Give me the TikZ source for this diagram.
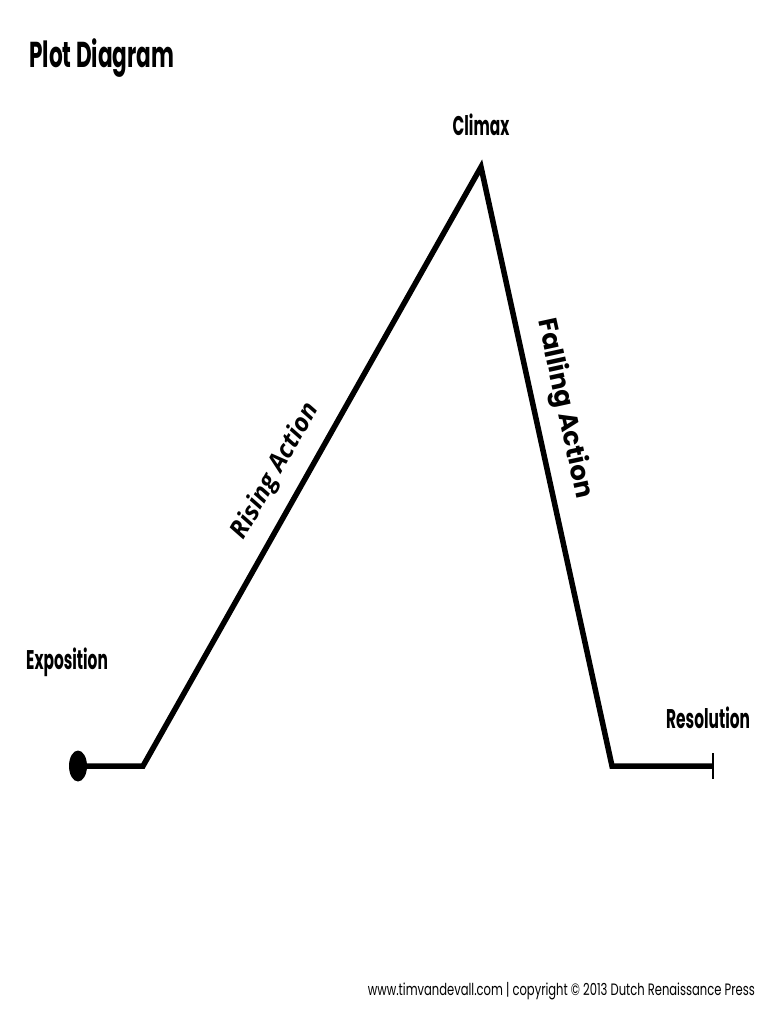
\documentclass[tikz,border=0pt]{standalone}
\usepackage{fontspec}
\setmainfont{Poppins}
\newfontfamily\narrowfont[FakeStretch=0.6]{Poppins}
\newfontfamily\stagefont[FakeStretch=0.57]{Poppins}
\newfontfamily\footfont[FakeStretch=0.7]{Poppins}
\newfontfamily\slantfont{Open Sans}
\tikzset{
    plotline/.style={line width=5.5pt, line join=miter},
    heading/.style={font=\narrowfont\bfseries\fontsize{36}{40}\selectfont, inner sep=0pt},
    stage/.style={font=\stagefont\bfseries\fontsize{27}{30}\selectfont, inner sep=0pt},
    action/.style={font=\bfseries\fontsize{26}{30}\selectfont, inner sep=0pt},
    rising/.style={font=\slantfont\bfseries\itshape\fontsize{25}{28}\selectfont, inner sep=0pt},
    credit/.style={font=\footfont\fontsize{16.5}{18}\selectfont, inner sep=0pt}
}
\begin{document}
\begin{tikzpicture}[x=1pt,y=-1pt]
    \useasboundingbox[fill=white] (0,0) rectangle (770,1024);

    \coordinate (start) at (78,766);
    \coordinate (expo) at (143,766);
    \coordinate (climax) at (481,167);
    \coordinate (resol) at (612,766);
    \coordinate (finish) at (713,766);

    \node (title) [heading, anchor=base west] at (29,68) {Plot Diagram};
    \node (climaxlabel) [stage, anchor=base] at (481,136) {Climax};
    \node (expolabel) [stage, anchor=base west] at (26,669) {Exposition};
    \node (resollabel) [stage, anchor=base west] at (666,728) {Resolution};

    \draw[plotline] (start) -- (expo)
        -- node[rising, sloped, pos=0.468, above=14pt] {Rising Action} (climax)
        -- node[action, sloped, pos=0.414, above=13pt] {Falling Action} (resol)
        -- (finish);
    \fill (start) ellipse [x radius=9, y radius=15.5];
    \draw[line width=2pt] ([yshift=13pt]finish) -- ([yshift=-13pt]finish);

    \node (footer) [credit, anchor=base east] at (755,995)
        {www.timvandevall.com \textbar{} copyright \textcopyright{} 2013 Dutch Renaissance Press};
\end{tikzpicture}
\end{document}
